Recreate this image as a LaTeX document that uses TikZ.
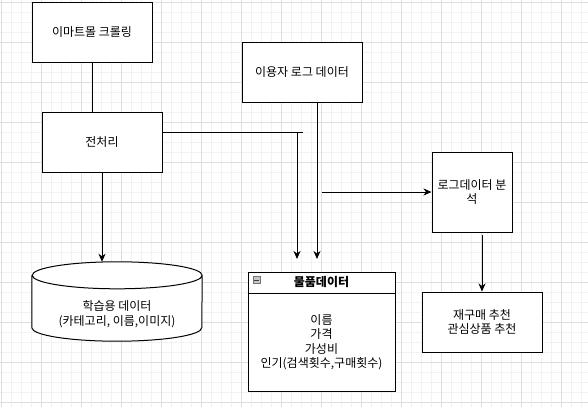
\documentclass[tikz,border=0pt]{standalone}
\usepackage{fontspec}
\setmainfont{Noto Sans CJK KR}
\usetikzlibrary{arrows.meta}
\tikzset{/REC/S/box/.style={
	shape=rectangle, draw=black, fill=white, line width=1pt,
	minimum width=120pt, minimum height=60pt, inner sep=1pt,
	align=center, font=\fontsize{12}{14.5}\selectfont
}}
\tikzset{/REC/S/link/.style={
	draw=black, line width=1pt
}}
\tikzset{/REC/S/flow/.style={
	draw=black, line width=1pt, -{Stealth[length=8pt, width=7pt, inset=2.5pt]}
}}
\tikzset{/REC/S/minor/.style={draw=black!5, line width=1pt}}
\tikzset{/REC/S/major/.style={draw=black!13, line width=1pt}}

\begin{document}
\begin{tikzpicture}[x=1pt, y=-1pt]
			\useasboundingbox (0,0) rectangle (588,407);
			\fill[white] (0,0) rectangle (588,407);
			\foreach \gx in {1,11,...,581} \draw[/REC/S/minor] (\gx,0) -- (\gx,407);
			\foreach \gy in {2,12,...,402} \draw[/REC/S/minor] (0,\gy) -- (588,\gy);
			\foreach \gx in {1,41,...,561} \draw[/REC/S/major] (\gx,0) -- (\gx,407);
			\foreach \gy in {2,42,...,402} \draw[/REC/S/major] (0,\gy) -- (588,\gy);
			\path (92,32) node[/REC/S/box] (crawl) {이마트몰 크롤링};
			\path (crawl.center) ++ (10,110) node[/REC/S/box] (prep) {전처리};
			\path (302,72) node[/REC/S/box] (userlog) {이용자 로그 데이터};
			\path (472,192) node[/REC/S/box, minimum width=80pt, minimum height=80pt] (loga) {로그데이터 분\\석};
			\path (loga.center) ++ (10,130) node[/REC/S/box] (rec) {재구매 추천\\관심상품 추천};
			\path (117,301.5) node[minimum width=170pt, minimum height=79pt, inner sep=0pt] (train) {};
			\draw[/REC/S/link, fill=white] ([yshift=-13.5pt]train.north west)
				-- ([yshift=13.5pt]train.south west)
				arc[start angle=180, end angle=360, x radius=85pt, y radius=13.5pt]
				-- ([yshift=-13.5pt]train.north east)
				arc[start angle=0, end angle=180, x radius=85pt, y radius=13.5pt]
				arc[start angle=180, end angle=360, x radius=85pt, y radius=13.5pt];
			\path (train.center) ++ (0,12.5) node[align=center, font=\fontsize{12}{14.5}\selectfont] (trainText) {학습용 데이터\\(카테고리, 이름,이미지)};
			\path (321.5,331.5) node[/REC/S/box, minimum width=147pt, minimum height=119pt] (item) {};
			\draw[/REC/S/link] ([yshift=-22pt]item.north west) -- ([yshift=-22pt]item.north east);
			\path (item.north) ++ (0,11) node[font=\fontsize{12}{14.5}\selectfont\bfseries] (itemHead) {물품데이터};
			\path (item.north west) ++ (9,8.5) node[draw=black!55, fill=black!22, minimum width=7pt, minimum height=6.5pt, inner sep=0pt, line width=0.8pt] (fold) {};
			\draw[black!75, line width=1pt] ([xshift=1.5pt]fold.west) -- ([xshift=-1.5pt]fold.east);
			\path (item.center) ++ (0,10.5) node[align=center, font=\fontsize{12}{14.5}\selectfont] (itemBody) {이름\\가격\\가성비\\인기(검색횟수,구매횟수)};
			\coordinate (prepTurn) at (297,132);
			\coordinate (prepTip) at (297,259);
			\coordinate (userTip) at (317,259);
			\coordinate (logStart) at (322,192);
			\draw[/REC/S/link] (crawl.south) -- (crawl.south |- prep.north);
			\draw[/REC/S/flow] (prep.south) -- (prep.south |- train.north);
			\draw[/REC/S/link] (prep.east |- prepTurn) -- ++ (140,0);
			\draw[/REC/S/flow] (prepTurn) -- (prepTip);
			\draw[/REC/S/flow] (userlog.south -| userTip) -- (userTip);
			\draw[/REC/S/flow] (logStart) -- (loga.west);
			\draw[/REC/S/flow, shorten <=2pt] (rec.north |- loga.south) -- (rec.north);
		\end{tikzpicture}
\end{document}
